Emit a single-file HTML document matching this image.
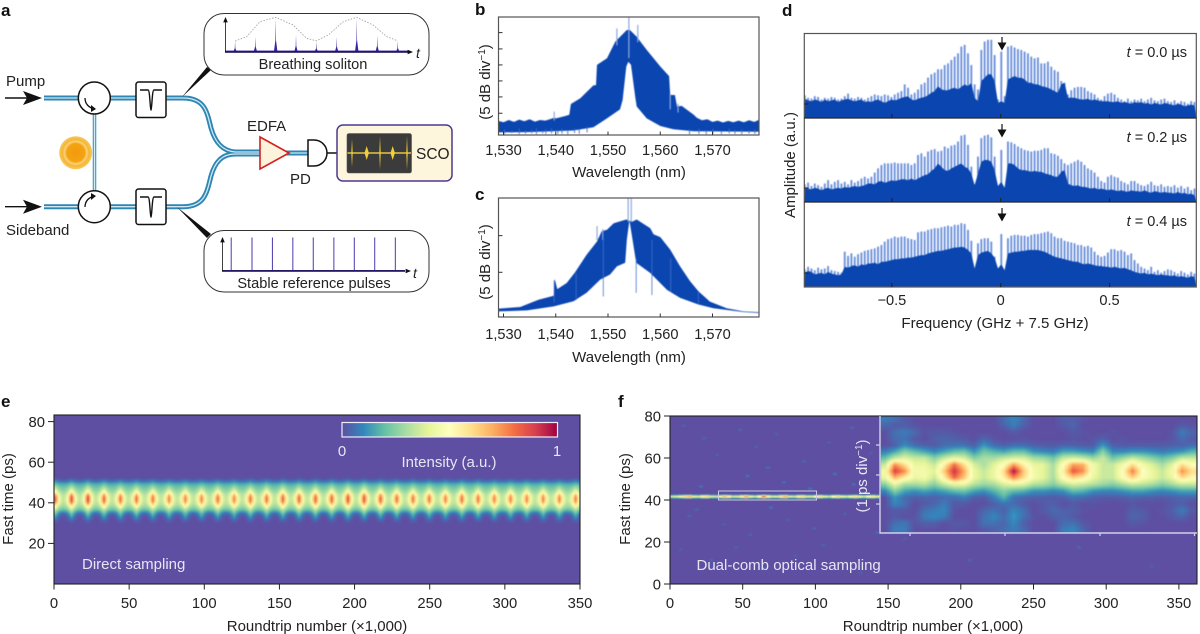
<!DOCTYPE html>
<html lang="en">
<head>
<meta charset="utf-8">
<title>Breathing soliton dual-comb sampling figure</title>
<style>
html,body{margin:0;padding:0;background:#fff;width:1200px;height:634px;overflow:hidden}
svg{display:block;font-family:"Liberation Sans",sans-serif;fill:#222}
text{font-size:15px}
.pl{font-weight:bold;font-size:17px;fill:#111}
.lt{fill:#e6e6f3}
</style>
</head>
<body>
<svg id="fig" xmlns="http://www.w3.org/2000/svg" width="1200" height="634" viewBox="0 0 1200 634">
<defs>
<clipPath id="clipB"><rect x="498.5" y="17" width="260.5" height="118"/></clipPath>
<clipPath id="clipC"><rect x="498.5" y="198" width="260.5" height="119"/></clipPath>
<clipPath id="clipD0"><rect x="804.3" y="33.5" width="392" height="84.5"/></clipPath>
<clipPath id="clipD1"><rect x="804.3" y="118" width="392" height="84"/></clipPath>
<clipPath id="clipD2"><rect x="804.3" y="202" width="392" height="85"/></clipPath>
<clipPath id="clipE"><rect x="54" y="415" width="526" height="169"/></clipPath>
<clipPath id="clipI"><rect x="880" y="416" width="317" height="117"/></clipPath>
<filter id="blur1" x="-5%" y="-5%" width="110%" height="110%" color-interpolation-filters="sRGB"><feGaussianBlur stdDeviation="0.9"/></filter>
<filter id="blur2" x="-5%" y="-5%" width="110%" height="110%" color-interpolation-filters="sRGB"><feGaussianBlur stdDeviation="1.1"/></filter>
<filter id="blurS" x="-2%" y="-2%" width="104%" height="104%" color-interpolation-filters="sRGB"><feGaussianBlur stdDeviation="0.4"/></filter>
<radialGradient id="ringGrad"><stop offset="0" stop-color="#f29a0a"/><stop offset="0.55" stop-color="#f4a313"/><stop offset="0.68" stop-color="#fbd37a"/><stop offset="0.8" stop-color="#f5b534"/><stop offset="1" stop-color="#f8c95c"/></radialGradient>
<linearGradient id="colorbarGrad"></linearGradient>
</defs>

<g>
<text class="pl" x="1" y="16">a</text>
<g fill="none">
<path d="M94.5,112 V192" stroke="#4ea5ca" stroke-width="3.6"/>
<path d="M94.5,112 V192" stroke="#d5ecf5" stroke-width="1"/>
<g stroke="#2e86b3" stroke-width="5">
<path d="M44,98 H136"/><path d="M44,206.7 H136"/>
<path d="M166,98 H183 C205,98 207,112 211,128 C215,142 222,151 235,152 H260"/>
<path d="M166,206.7 H183 C205,206.7 207,192 211,176 C215,162 222,154 235,154 H260"/>
<path d="M285,153 H310"/>
</g>
<g stroke="#cfe8f3" stroke-width="1.3">
<path d="M44,98 H136"/><path d="M44,206.7 H136"/>
<path d="M166,98 H183 C205,98 207,112 211,128 C215,142 222,151 235,152 H260"/>
<path d="M166,206.7 H183 C205,206.7 207,192 211,176 C215,162 222,154 235,154 H260"/>
<path d="M285,153 H310"/>
</g>
</g>
<circle cx="75.7" cy="152.7" r="16.5" fill="url(#ringGrad)"/>
<g><path d="M5,98 H30" stroke="#111" stroke-width="1.4"/><path d="M23,91 L42,98 L23,105 L27,98 Z" fill="#111"/></g>
<g><path d="M5,206.7 H30" stroke="#111" stroke-width="1.4"/><path d="M23,199.7 L42,206.7 L23,213.7 L27,206.7 Z" fill="#111"/></g>
<text x="6" y="86">Pump</text>
<text x="6" y="235">Sideband</text>
<g><circle cx="94.3" cy="98" r="16" fill="#fff" stroke="#111" stroke-width="1.5"/><path d="M85,98 C85,104 89,108 95,109" fill="none" stroke="#111" stroke-width="1.3"/><path d="M91,105 L96,109 L91,112 Z" fill="#111"/></g>
<g><circle cx="94.3" cy="206.7" r="16" fill="#fff" stroke="#111" stroke-width="1.5"/><path d="M85,207 C85,201 89,197 95,196" fill="none" stroke="#111" stroke-width="1.3"/><path d="M91,193 L96,196 L91,200 Z" fill="#111"/></g>
<g><rect x="136" y="82" width="30" height="35.5" rx="2.5" fill="#fff" stroke="#111" stroke-width="1.5"/><path d="M140,90 H148 C150,90 150,109 151,110 C152,109 152,90 154,90 H162" fill="none" stroke="#111" stroke-width="1.4"/></g>
<g><rect x="136" y="189" width="30" height="35.5" rx="2.5" fill="#fff" stroke="#111" stroke-width="1.5"/><path d="M140,197 H148 C150,197 150,216 151,217 C152,216 152,197 154,197 H162" fill="none" stroke="#111" stroke-width="1.4"/></g>
<path d="M182,97 L207,67 L211,70 Z" fill="#111"/>
<path d="M177,207 L207,238 L211,234 Z" fill="#111"/>
<rect x="204" y="13.5" width="225" height="61.5" rx="20" fill="#fff" stroke="#333" stroke-width="1"/>
<rect x="204" y="230.5" width="225" height="61.5" rx="20" fill="#fff" stroke="#333" stroke-width="1"/>
<g id="miniBreath"></g>
<g id="miniRef"></g>
<text x="313" y="69" text-anchor="middle" style="font-size:14.6px">Breathing soliton</text>
<text x="314" y="288" text-anchor="middle" style="font-size:14.6px">Stable reference pulses</text>
<text x="416" y="58" style="font-size:14px;font-style:italic">t</text>
<text x="413" y="278" style="font-size:14px;font-style:italic">t</text>
<path d="M260,137 L289,153 L260,169 Z" fill="#fdf3dc" stroke="#d42020" stroke-width="1.6"/>
<text x="247" y="131">EDFA</text>
<path d="M308,140 H314 A13,13 0 0 1 314,166 H308 Z" fill="#fff" stroke="#111" stroke-width="1.5"/>
<path d="M327,153 H337" stroke="#111" stroke-width="1.5"/>
<text x="290" y="184">PD</text>
<rect x="337" y="125" width="115" height="56" rx="6" fill="#fdf5dc" stroke="#4b3a90" stroke-width="1.5"/>
<rect x="347" y="133.5" width="64.5" height="39.5" rx="2" fill="#3b3b3b" stroke="#555" stroke-width="0.6"/>
<g fill="#f0cf3e" stroke="none">
<rect x="347.5" y="152.3" width="63.5" height="1.4"/>
<path d="M351.3,153 L352,139 L352.7,153 L352,167 Z"/>
<path d="M364.5,153 L366.7,146 L368.9,153 L366.7,160 Z"/>
<path d="M379.3,153 L380,136 L380.7,153 L380,170 Z"/>
<path d="M390.5,153 L392.7,146 L394.9,153 L392.7,160 Z"/>
<path d="M406.3,153 L407,136 L407.7,153 L407,170 Z"/>
</g>
<text x="416" y="159" style="font-size:15.5px">SCO</text>
</g>

<g>
<text class="pl" x="475" y="15">b</text>
<g clip-path="url(#clipB)"><g id="specB" filter="url(#blurS)"></g></g>
<rect x="498.5" y="17" width="260.5" height="118" fill="none" stroke="#555" stroke-width="1.2"/>
<g id="axB"></g>
<text x="629" y="177" text-anchor="middle">Wavelength (nm)</text>
<text transform="translate(490,82) rotate(-90)" text-anchor="middle">(5 dB div<tspan dy="-5" style="font-size:10px">−1</tspan><tspan dy="5">)</tspan></text>
</g>

<g>
<text class="pl" x="475" y="200">c</text>
<g clip-path="url(#clipC)"><g id="specC" filter="url(#blurS)"></g></g>
<rect x="498.5" y="198" width="260.5" height="119" fill="none" stroke="#555" stroke-width="1.2"/>
<g id="axC"></g>
<text x="629" y="362" text-anchor="middle">Wavelength (nm)</text>
<text transform="translate(490,262) rotate(-90)" text-anchor="middle">(5 dB div<tspan dy="-5" style="font-size:10px">−1</tspan><tspan dy="5">)</tspan></text>
</g>

<g>
<text class="pl" x="782" y="16">d</text>
<g clip-path="url(#clipD0)"><g id="rf0" filter="url(#blurS)"></g></g>
<g clip-path="url(#clipD1)"><g id="rf1" filter="url(#blurS)"></g></g>
<g clip-path="url(#clipD2)"><g id="rf2" filter="url(#blurS)"></g></g>
<rect x="804.3" y="33.5" width="392" height="253.5" fill="none" stroke="#555" stroke-width="1.2"/>
<path d="M804.3,118 H1196.3 M804.3,202 H1196.3" stroke="#222" stroke-width="1.2"/>
<g id="axD"></g>
<text x="1187" y="57" text-anchor="end" style="font-size:14.5px"><tspan font-style="italic">t</tspan> = 0.0 µs</text>
<text x="1187" y="142" text-anchor="end" style="font-size:14.5px"><tspan font-style="italic">t</tspan> = 0.2 µs</text>
<text x="1187" y="226" text-anchor="end" style="font-size:14.5px"><tspan font-style="italic">t</tspan> = 0.4 µs</text>
<text transform="translate(795,165) rotate(-90)" text-anchor="middle">Amplitude (a.u.)</text>
<text x="995" y="328" text-anchor="middle">Frequency (GHz + 7.5 GHz)</text>
<g id="arrowsD"></g>
</g>

<g>
<text class="pl" x="1" y="407">e</text>
<rect x="54" y="415" width="526" height="169" fill="#5e4fa2"/>
<g clip-path="url(#clipE)"><g id="heatE" filter="url(#blur1)"></g></g>
<rect x="54" y="415" width="526" height="169" fill="none" stroke="#222" stroke-width="1.1"/>
<g id="axE"></g>
<rect x="342" y="422.5" width="215.5" height="14.5" fill="url(#colorbarGrad)" stroke="#eeeef8" stroke-width="1.2"/>
<text class="lt" x="342" y="456" text-anchor="middle">0</text>
<text class="lt" x="557" y="456" text-anchor="middle">1</text>
<text class="lt" x="449" y="467" text-anchor="middle">Intensity (a.u.)</text>
<text class="lt" x="82" y="569">Direct sampling</text>
<text transform="translate(13,499) rotate(-90)" text-anchor="middle">Fast time (ps)</text>
<text x="317" y="631" text-anchor="middle">Roundtrip number (×1,000)</text>
</g>

<g>
<text class="pl" x="618" y="407">f</text>
<rect x="670" y="416" width="527" height="168" fill="#5e4fa2"/>
<g id="heatF" filter="url(#blurS)"></g>
<g clip-path="url(#clipI)"><rect x="880" y="416" width="317" height="117" fill="#5e4fa2"/><g id="heatI" filter="url(#blur2)"></g></g>
<rect x="670" y="416" width="527" height="168" fill="none" stroke="#222" stroke-width="1.1"/>
<rect x="718.5" y="491" width="98" height="9" fill="none" stroke="#c8c8e4" stroke-width="1"/>
<path d="M880,416 V533 H1197" fill="none" stroke="#cfd2ea" stroke-width="1.4"/>
<path d="M876,445 H880 M876,475 H880 M876,504 H880 M910,533 V536 M1005,533 V536 M1100,533 V536 M1194.5,533 V536" stroke="#cfd2ea" stroke-width="1.2"/>
<text class="lt" transform="translate(867,476) rotate(-90)" text-anchor="middle">(1 ps div<tspan dy="-5" style="font-size:10px">−1</tspan><tspan dy="5">)</tspan></text>
<g id="axF"></g>
<text class="lt" x="696.5" y="570">Dual-comb optical sampling</text>
<text transform="translate(630,499) rotate(-90)" text-anchor="middle">Fast time (ps)</text>
<text x="933" y="631" text-anchor="middle">Roundtrip number (×1,000)</text>
</g>
</svg>

<script>
/* ---------- panel b: optical spectrum, envelope values in nm / dB ---------- */
const bUpperNm=[1529,1530,1531,1532,1533,1534,1535,1536,1537,1538,1539,1539.7,1540,1541,1542,1542.6,1542.9,1544.7,1547.2,1547.7,1547.9,1549.8,1551.4,1553.6,1554.2,1555.5,1557.4,1560,1561.7,1561.9,1562.8,1563.2,1564.1,1566.4,1567,1568,1569,1570,1571,1572,1573,1574,1575,1576,1577,1578,1579];
const bUpperDb=[4.4,4,4.7,4.1,4.8,4.3,4.9,4.2,4.7,4.5,5,5.4,5.2,5.6,6,6.3,9.7,11.5,15.5,15.6,21.9,24,29.2,32.8,32.8,30.7,26.6,21.4,18.4,12.5,12.5,8.9,9.1,6.3,5.4,4.6,4.9,4.1,4.5,3.9,4.4,4,4.5,4,4.6,4.1,4.8];
const bLowerNm=[1529,1534.5,1539.6,1543.4,1547.2,1549.8,1552.3,1552.8,1553.5,1553.9,1554.4,1555.2,1555.5,1557.4,1560,1562.5,1566.4,1579];
const bLowerDb=[0.8,0.9,1.2,1.4,2.4,5.2,8,10.9,21.4,22.9,21.9,12,8.9,5.2,2.8,1.8,1.2,1];
const bSpikeNm=[1554,1551.7,1555.7,1539.7,1561.9,1563.4];
const bSpikeTop=[36.9,33.3,34.4,7.3,13,9.8];
const bSpikeBottom=[24,28,29,4.5,8,7];
const bNoiseNm=[1530.2,1531.6,1533,1534.2,1535.4,1536.3,1537.5,1538.1,1539.2,1540.4,1541.2,1542.3,1543.6,1544.5,1546,1565.6,1567.4,1568.8,1570.1,1571.7,1573.2,1574.3,1575.6,1577,1578.1];
const bNoiseTop=[1.8,1.4,2,1.5,1.7,2.1,1.4,1.8,2.1,1.5,1.9,1.6,2.1,1.8,2.6,1.7,2,1.5,1.9,1.4,2,1.6,1.9,1.5,1.8];
const bNoiseBottom=[0.2,0.6,0.2,0.4,0.5,0.2,0.5,0.3,0.5,0.3,0.4,0.2,0.6,0.4,0.8,0.2,0.3,0.2,0.4,0.3,0.5,0.3,0.2,0.4,0.3];
const bYTicks=[6.8,11.9,16.9,21.9,26.9,32];

/* ---------- panel c ---------- */
const cUpperNm=[1529,1533.2,1536.7,1539.6,1539.8,1540.3,1542.1,1543.7,1545.9,1547.9,1548.8,1549.8,1551.1,1553.5,1554.6,1555.5,1558.1,1558.7,1560,1561.9,1563.8,1565.7,1567.3,1569.5,1572.7,1575.9,1579];
const cUpperDb=[1.14,1.36,2.36,2.9,5.18,3.8,4.64,6.1,8.5,10.3,11.7,11.9,12.8,13.3,13,13.3,12.1,11.3,10.9,9.2,6.9,4.9,3.5,2.1,1.2,0.77,0.64];
const cLowerNm=[1529,1534.5,1539.6,1543.4,1545.9,1548.5,1550.4,1551.7,1553.3,1553.6,1554.1,1554.7,1555.4,1558.1,1561.3,1563.8,1567.3,1570.2,1575.9,1579];
const cLowerDb=[0.77,0.9,1.45,2.14,3.3,5.1,5.8,6.9,7.4,10.5,13.2,10.5,7.4,6,3.7,2.6,1.7,1.2,0.68,0.55];
const cSpikeNm=[1553.85,1554.45,1547.9,1549];
const cSpikeTop=[16.3,16.3,12.4,12];
const cSpikeBottom=[13,13,10.5,10.5];
const cDipNm=[1549.1,1555.4,1558.4,1562,1567.3,1539.7,1543.9];
const cDipTop=[11,8,10.5,8,3.4,5,6];
const cDipBottom=[2.8,3.3,3,3.4,1.8,2,2.3];
const cYTicks=[6.1,11.1];
const wavelengthTicks=[1530,1540,1550,1560,1570];
const wavelengthTickLabels=["1,530","1,540","1,550","1,560","1,570"];

/* ---------- panel d: amplitude (0-100) of each comb line and of the pedestal ---------- */
const combSpacingGHz=0.0153;
const rfLinesT0=[27,24,23,26,25,22,24,23,25,24,22,23,26,29,24,23,25,24,22,24,26,28,27,26,28,27,25,28,30,32,40,36,28,30,34,40,42,48,52,54,58,58,63,65,69,73,77,85,87,77,63,40,34,81,91,93,93,75,22,79,26,85,86,84,82,81,79,77,73,71,72,65,65,67,61,57,55,44,42,28,33,36,37,37,36,32,30,28,24,22,26,29,30,28,24,22,20,23,20,22,21,23,20,22,24,21,20,22,23,20,19,21,18,20,19,17,20,19];
const rfBaseT0=[23,21,20,22,21,19,22,20,21,22,19,21,22,23,21,20,21,22,19,20,19,21,22,20,18,20,22,21,22,24,25,26,22,21,23,24,25,27,30,32,38,34,33,33,35,36,34,37,40,38,42,24,20,44,48,52,52,44,18,20,18,46,48,50,48,48,46,42,42,40,40,38,37,36,34,32,30,40,42,24,24,24,23,22,22,23,21,22,21,20,20,20,19,19,20,18,19,18,17,19,18,19,17,18,16,18,17,16,18,17,16,15,17,16,14,15,16,15];
const rfLinesT2=[21,23,19,22,20,18,22,26,21,24,26,22,24,21,26,23,25,28,30,28,30,35,40,44,46,46,46,47,46,46,46,46,44,46,56,58,54,60,62,63,60,61,66,64,67,68,72,79,80,68,42,21,54,76,79,80,77,54,19,62,17,72,71,69,66,64,62,61,60,61,61,62,64,64,58,57,55,51,46,44,46,48,50,48,44,40,38,35,30,25,23,30,32,30,29,25,23,21,25,25,22,20,19,21,24,20,19,21,18,19,18,20,17,19,16,18,14,16];
const rfBaseT2=[17,16,15,17,16,14,16,17,15,16,17,16,18,17,18,19,18,19,20,22,22,21,24,25,23,24,26,25,26,27,27,26,28,26,28,30,32,33,37,40,46,42,38,37,40,42,44,46,42,40,34,20,34,48,50,50,48,38,19,24,17,46,46,44,40,38,38,37,36,37,36,36,34,33,32,30,30,36,38,22,20,19,20,18,18,17,16,17,15,16,15,14,15,14,13,14,13,12,14,13,13,12,14,12,11,13,12,11,12,11,11,10,12,10,11,9,10,8];
const rfLinesT4=[21,24,22,20,23,21,22,25,20,19,18,17,42,37,40,36,39,41,43,44,45,46,48,50,54,57,58,60,59,60,60,58,57,56,65,66,66,68,69,70,70,71,72,73,72,74,74,76,75,68,55,22,52,57,58,58,54,36,22,63,20,58,61,62,62,61,61,60,62,63,63,64,65,66,64,60,58,58,55,54,53,52,50,50,48,49,47,42,38,36,37,41,45,45,43,44,42,38,40,32,28,24,22,20,24,18,20,17,19,21,20,18,16,19,17,15,18,16];
const rfBaseT4=[17,19,18,15,16,17,15,18,16,15,14,15,24,23,25,26,24,27,26,28,28,29,27,30,30,31,32,33,33,34,34,35,35,36,37,38,38,40,41,42,43,43,44,45,46,47,47,48,47,44,40,22,38,41,42,43,40,35,22,27,20,40,41,42,42,43,43,44,44,44,44,43,42,40,38,36,35,34,33,32,31,30,30,28,27,28,27,26,25,25,24,24,23,24,23,22,23,21,20,18,17,16,17,15,16,15,14,15,14,14,13,14,12,13,12,11,13,12];
const freqTicks=[-0.5,0,0.5];
const freqTickLabels=["−0.5","0","0.5"];
const comb0ArrowGHz=0.006;

/* ---------- panel e: breather pulses ---------- */
const ePulseRoundtrip=[-10,0.8,11.7,22.6,33.3,44.2,54.9,65.8,76.6,87.4,98.2,109,119.9,130.7,141.5,152.3,163.1,174,184.8,195.6,206.4,217.3,228.1,238.9,249.7,260.5,271.4,282.2,293,303.8,314.6,325.5,336.3,347.1,358];
const ePulsePeak=[0.84,0.84,0.86,0.87,0.82,0.8,0.8,0.79,0.77,0.77,0.77,0.8,0.77,0.8,0.8,0.82,0.82,0.82,0.82,0.85,0.85,0.82,0.8,0.79,0.79,0.77,0.8,0.79,0.77,0.77,0.77,0.77,0.77,0.77,0.77];
const eProfileTimes=[30.5,31.5,32.5,33.5,34.5,35.5,36.5,37.5,38.5,39.5,40.5,41.5,42.5,43.5,44.5,45.5,46.5,47.5,48.5,49.5,50.5,51.5,52.5,53.5];
const ePeakProfile=[0.02,0.05,0.1,0.15,0.2,0.26,0.33,0.42,0.52,0.68,0.8,0.85,0.85,0.8,0.68,0.52,0.42,0.34,0.27,0.2,0.13,0.06,0.01,0];
const eTroughProfile=[0,0,0,0.01,0.03,0.1,0.18,0.24,0.28,0.31,0.33,0.34,0.34,0.33,0.31,0.28,0.25,0.22,0.19,0.15,0.08,0.02,0,0];
const ePhaseMix=[0,0.06,0.25,0.65,1,0.65,0.25,0.06];
const ePulsePeriod=10.85;
const eXTicks=[0,50,100,150,200,250,300,350];
const eYTicks=[20,40,60,80];

/* ---------- panel f ---------- */
const fLineRoundtrip=[0,3,6,9,12,15,18,21,24,27,30,33,36,39,42,45,48,51,54,57,60,63,66,69,72,75,78,81,84,87,90,93,96,99,102,105,108,111,114,117,120,123,126,129,132,135,138,141,144];
const fLineValues=[0.35,0.38,0.45,0.6,0.65,0.4,0.38,0.55,0.6,0.38,0.36,0.45,0.65,0.55,0.36,0.38,0.55,0.68,0.42,0.36,0.5,0.75,0.55,0.38,0.38,0.58,0.66,0.38,0.36,0.55,0.6,0.38,0.38,0.5,0.58,0.4,0.36,0.5,0.6,0.42,0.38,0.45,0.58,0.42,0.36,0.48,0.56,0.4,0.38];
const fSpeckRoundtrip=[8,22,31,47,58,66,72,91,108,124,137,12,36,54,80,98,119,141,6,27,44,63,85,104,130,160,205,240,280,330,20,52,77,112,17,68,95,125];
const fSpeckTime=[76,70,62,74,66,56,72,59,68,75,63,33,29,24,31,27,34,25,17,12,18,8,14,19,6,22,12,26,18,9,47,52,49,53,36,37,46,48];
const fSpeckValue=[0.03,0.04,0.03,0.04,0.03,0.05,0.03,0.04,0.03,0.04,0.03,0.04,0.03,0.04,0.03,0.04,0.03,0.04,0.03,0.04,0.03,0.04,0.03,0.04,0.03,0.03,0.04,0.03,0.04,0.03,0.05,0.06,0.05,0.06,0.04,0.05,0.06,0.05];
const fXTicks=[0,50,100,150,200,250,300,350];
const fYTicks=[0,20,40,60,80];
const insetMatrix=[
[.08,.06,.02,0,0,0,0,0,0,0,0,0,.05,.1,.05,0,0,0,.03,.03,.01,0,0,0,0,0,0,0,0,0,0,0],
[.04,.02,.03,.01,0,0,0,0,0,0,0,0,.03,.08,.03,0,0,0,.02,.04,0,0,0,0,0,0,0,0,0,0,.02,.01],
[0,.06,.08,.05,.01,.02,.02,.01,0,0,0,0,0,.02,0,0,0,0,0,.02,.01,0,0,.01,0,0,0,0,0,.01,.08,.04],
[0,.05,.06,.02,0,.03,.04,.03,.02,0,.04,.01,0,0,.01,0,0,0,0,.01,0,.01,.03,0,.01,0,0,0,0,.01,.05,.02],
[0,.03,.1,.05,.03,.02,.05,.06,.06,.03,.12,.05,.03,.05,.05,.03,.02,.02,.03,.03,.02,.02,.12,.03,.02,.02,.02,.02,.02,.03,.03,.05],
[.08,.15,.25,.2,.15,.1,.15,.2,.22,.12,.22,.18,.15,.2,.2,.12,.1,.08,.15,.15,.12,.1,.25,.1,.1,.12,.12,.1,.08,.1,.12,.18],
[.2,.35,.4,.35,.35,.25,.35,.42,.38,.25,.3,.3,.35,.38,.38,.3,.28,.22,.35,.38,.35,.28,.35,.22,.28,.35,.3,.25,.2,.25,.35,.35],
[.35,.75,.6,.42,.42,.35,.55,.8,.6,.38,.3,.4,.5,.72,.55,.42,.4,.3,.5,.72,.7,.45,.35,.35,.45,.6,.45,.38,.3,.4,.6,.5],
[.45,.9,.75,.45,.45,.4,.65,.92,.7,.42,.35,.42,.6,.98,.65,.45,.4,.3,.55,.85,.75,.45,.35,.35,.5,.78,.5,.42,.35,.45,.75,.6],
[.42,.68,.55,.42,.45,.35,.55,.82,.65,.42,.35,.42,.55,.75,.6,.45,.4,.3,.5,.62,.55,.42,.35,.35,.48,.62,.48,.42,.35,.42,.6,.52],
[.25,.42,.3,.3,.32,.25,.35,.42,.42,.32,.28,.3,.38,.42,.4,.32,.3,.25,.32,.38,.35,.32,.28,.25,.3,.35,.33,.3,.25,.3,.35,.35],
[.1,.25,.15,.12,.15,.12,.15,.2,.22,.15,.12,.18,.25,.2,.18,.12,.12,.1,.12,.2,.18,.12,.1,.1,.12,.15,.15,.12,.1,.12,.15,.15],
[0,.12,.05,.03,.04,.03,.05,.05,.08,.03,.02,.08,.18,.06,.04,.03,.03,.02,.03,.06,.05,.03,.02,.02,.03,.04,.03,.03,.02,.03,.04,.04],
[0,.1,.06,0,.02,.04,.08,.02,.02,0,0,.03,.06,.05,.02,0,.02,.03,0,.02,0,.01,0,0,0,.01,0,0,0,.02,.03,0],
[0,.02,.02,0,.06,.08,.1,.01,0,0,.04,.06,.03,.1,.06,0,.02,.05,.03,.03,.01,0,0,0,0,.03,.02,0,.01,.03,.08,.02],
[0,.02,0,.01,.08,.1,.08,0,0,0,.06,.1,.05,.12,.06,.01,0,.03,.04,.02,0,0,0,0,0,.04,.03,0,0,.02,.04,0],
[0,.06,.07,.01,.03,.03,0,.02,.02,0,.06,.06,.04,.1,.03,0,0,0,.05,.06,.02,0,0,0,0,.02,.01,0,0,0,0,0],
[0,.08,.08,0,0,0,0,.01,0,0,.02,.03,.05,.08,.05,0,0,0,.08,.1,.04,0,0,0,0,0,0,0,0,0,0,0]
];

/* ---------- panel a mini traces (time 0-100, height 0-100) ---------- */
const breathPulseTimes=[5.5,16.6,27.7,38.8,49.9,61,72,83.2,94.4];
const breathPulseHeights=[32,45,100,50,30,45,100,50,32];
const breathEnvelopeTimes=[5.5,11.8,19.1,27.7,37.3,44.6,49.9,56.5,64.6,72,81,88.4,94.4];
const breathEnvelopeHeights=[32,45,89,102,79,40,33,50,89,102,79,45,33];
const refPulseTimes=[5,16.3,27.4,38.5,49.6,60.8,71.9,83,94.2];
const refPulseHeights=[100,100,100,100,100,100,100,100,100];

/* ---------- colour scale ---------- */
const spectralStops=["#5e4fa2","#3288bd","#66c2a5","#abdda4","#e6f598","#ffffbf","#fee08b","#fdae61","#f46d43","#d53e4f","#9e0142"];

const NS="http://www.w3.org/2000/svg";
const dark="#0a45b0", light="#8ea8de";
function make(parent,tag,attrs,text){
  const n=document.createElementNS(NS,tag);
  for(const k in attrs)n.setAttribute(k,attrs[k]);
  if(text!==undefined)n.textContent=text;
  parent.appendChild(n);
  return n;
}
function hexRgb(h){return [1,3,5].map(i=>parseInt(h.substr(i,2),16));}
const stopRgb=spectralStops.map(hexRgb);
function colorOf(v){
  const u=Math.max(0,Math.min(1,v))*(stopRgb.length-1);
  const i=Math.min(stopRgb.length-2,Math.floor(u)),f=u-i;
  const a=stopRgb[i],b=stopRgb[i+1];
  return "rgb("+a.map((c,k)=>Math.round(c+(b[k]-c)*f)).join(",")+")";
}
const grad=document.getElementById("colorbarGrad");
spectralStops.forEach((c,i)=>{
  const s=make(grad,"stop",{offset:i/(spectralStops.length-1),"stop-color":c});
  
  
});

/* axis functions */
const xNm=nm=>503.5+(nm-1530)*5.225;
const yB=db=>135-db*3.2;
const yC=db=>317-db*7.33;
const xGHz=f=>1000.7+f*217.7;
const yRf=(bottom,v)=>bottom-v*0.84;
const xE=r=>54+r*(526/350);
const yE=t=>584-t*2.03;
const xF=r=>670+r*1.454;
const yF=t=>584-t*2.1;
const xInset=u=>880+u*(317/32);
const yInset=v=>416+v*(117/18);
const xMiniA=t=>225+t*1.83;
const yMiniA=h=>52-h*0.34;
const xMiniB=t=>222+t*1.84;
const yMiniB=h=>271-h*0.335;

function drawSpectrum(g,yf,uN,uD,lN,lD,name){
  const pts=[];
  uN.forEach((n,i)=>pts.push(xNm(n).toFixed(1)+","+yf(uD[i]).toFixed(1)));
  for(let i=lN.length-1;i>=0;i--)pts.push(xNm(lN[i]).toFixed(1)+","+yf(lD[i]).toFixed(1));
  const p=make(g,"polygon",{points:pts.join(" "),fill:dark});
  
  
}
function drawStreaks(g,yf,nm,top,bottom,color,w,name){
  nm.forEach((n,i)=>{
    const l=make(g,"line",{x1:xNm(n),x2:xNm(n),y1:yf(top[i]),y2:yf(bottom[i]),stroke:color,"stroke-width":w});
    
    
  });
}
function wavelengthAxis(g,bottom,labelY,yTicks,yf,prefix){
  wavelengthTicks.forEach((w,i)=>{
    const t=make(g,"line",{x1:xNm(w),x2:xNm(w),y1:bottom,y2:bottom-3.5,stroke:"#333","stroke-width":1});
    
    
    const l=make(g,"text",{x:xNm(w),y:labelY,"text-anchor":"middle",style:"font-size:14.6px"},wavelengthTickLabels[i]);
    
    
  });
  yTicks.forEach(d=>{
    const t=make(g,"line",{x1:498.5,x2:502.5,y1:yf(d),y2:yf(d),stroke:"#333","stroke-width":1});
    
    
  });
}
const specB=document.getElementById("specB");
drawSpectrum(specB,yB,bUpperNm,bUpperDb,bLowerNm,bLowerDb,'spectrum-b-envelope');
drawStreaks(specB,yB,bNoiseNm,bNoiseTop,bNoiseBottom,"#3f6cc8",0.9,'spectrum-b-noise-streak');
drawStreaks(specB,yB,bSpikeNm,bSpikeTop,bSpikeBottom,light,1.2,'spectrum-b-spike');
wavelengthAxis(document.getElementById("axB"),135,155,bYTicks,yB,'spectrum-b');
const specC=document.getElementById("specC");
drawSpectrum(specC,yC,cUpperNm,cUpperDb,cLowerNm,cLowerDb,'spectrum-c-envelope');
drawStreaks(specC,yC,cSpikeNm,cSpikeTop,cSpikeBottom,light,1.2,'spectrum-c-spike');
drawStreaks(specC,yC,cDipNm,cDipTop,cDipBottom,"#4470cc",0.8,'spectrum-c-dip');
wavelengthAxis(document.getElementById("axC"),317,339,cYTicks,yC,'spectrum-c');

/* panel d */
function drawRf(id,bottom,lines,base,name){
  const g=document.getElementById(id);
  lines.forEach((v,i)=>{
    const f=-0.9+i*combSpacingGHz;
    const l=make(g,"line",{x1:xGHz(f),x2:xGHz(f),y1:bottom,y2:yRf(bottom,v),stroke:"#9db6e8","stroke-width":2.1});
    
    
    const tip=make(g,"line",{x1:xGHz(f),x2:xGHz(f),y1:yRf(bottom,base[i]),y2:yRf(bottom,v),stroke:"#4f7ad2","stroke-width":0.9});
    
    
  });
  const pts=["804,"+bottom];
  base.forEach((v,i)=>pts.push(xGHz(-0.9+i*combSpacingGHz).toFixed(1)+","+yRf(bottom,v).toFixed(1)));
  pts.push("1197,"+bottom);
  const p=make(g,"polygon",{points:pts.join(" "),fill:dark});
  
  
}
drawRf("rf0",118,rfLinesT0,rfBaseT0,'rf-t0');
drawRf("rf1",202,rfLinesT2,rfBaseT2,'rf-t02');
drawRf("rf2",287,rfLinesT4,rfBaseT4,'rf-t04');
const axD=document.getElementById("axD");
[118,202,287].forEach((b,k)=>{
  freqTicks.forEach(f=>{
    const t=make(axD,"line",{x1:xGHz(f),x2:xGHz(f),y1:b,y2:b-4,stroke:"#222","stroke-width":1.1});
    
    
  });
  const y=make(axD,"line",{x1:804.3,x2:808.5,y1:b-14,y2:b-14,stroke:"#222","stroke-width":1});
  
  
});
freqTicks.forEach((f,i)=>{
  const l=make(axD,"text",{x:xGHz(f),y:305,"text-anchor":"middle",style:"font-size:14.6px"},freqTickLabels[i]);
  
  
});
const arrowsD=document.getElementById("arrowsD");
[37,124,208].forEach(top=>{
  const x=xGHz(comb0ArrowGHz);
  const s=make(arrowsD,"line",{x1:x,x2:x,y1:top,y2:top+8,stroke:"#111","stroke-width":1.2});
  
  
  const h=make(arrowsD,"polygon",{points:(x-4.5)+","+(top+5.5)+" "+(x+4.5)+","+(top+5.5)+" "+x+","+(top+13.5),fill:"#111"});
  
  
});

/* panel e heatmap */
const heatE=document.getElementById("heatE");
const phaseCells=ePhaseMix.length;
const cellRt=ePulsePeriod/phaseCells;
ePulseRoundtrip.forEach((rt,p)=>{
  ePhaseMix.forEach((mix,k)=>{
    const cx=rt+(k-phaseCells/2)*cellRt;
    eProfileTimes.forEach((t,r)=>{
      const v=mix*ePulsePeak[p]*ePeakProfile[r]/0.85+(1-mix)*eTroughProfile[r];
      if(v<=0.003)return;
      const c=make(heatE,"rect",{x:(xE(cx-cellRt/2)).toFixed(2),y:(yE(t+0.5)).toFixed(2),width:(xE(cellRt)-xE(0)+0.5).toFixed(2),height:2.4,fill:colorOf(v)});
      
      
    });
  });
});
function numericAxis(g,xTicks,yTicks,xf,yf,left,bottom,prefix){
  xTicks.forEach(v=>{
    const t=make(g,"line",{x1:xf(v),x2:xf(v),y1:bottom,y2:bottom+5.5,stroke:"#222","stroke-width":1});
    
    
    const l=make(g,"text",{x:xf(v),y:608,"text-anchor":"middle",style:"font-size:14.8px"},String(v));
    
    
  });
  yTicks.forEach(v=>{
    const t=make(g,"line",{x1:left-6,x2:left,y1:yf(v),y2:yf(v),stroke:"#222","stroke-width":1});
    
    
    const l=make(g,"text",{x:left-9,y:yf(v)+5.3,"text-anchor":"end",style:"font-size:14.8px"},String(v));
    
    
  });
}
numericAxis(document.getElementById("axE"),eXTicks,eYTicks,xE,yE,54,584,'heatmap-e');

/* panel f */
const heatF=document.getElementById("heatF");
fSpeckRoundtrip.forEach((r,i)=>{
  const s=make(heatF,"rect",{x:xF(r),y:yF(fSpeckTime[i]),width:4,height:2.5,fill:colorOf(fSpeckValue[i])});
  
  
});
fLineRoundtrip.forEach((r,i)=>{
  const w=xF(3)-xF(0)+0.3;
  const glow=make(heatF,"rect",{x:xF(r),y:yF(41.6)-2,width:w,height:4,fill:colorOf(fLineValues[i]*0.45)});
  
  
});
fLineRoundtrip.forEach((r,i)=>{
  const w=xF(3)-xF(0)+0.3;
  const c=make(heatF,"rect",{x:xF(r),y:yF(41.6)-0.9,width:w,height:1.8,fill:colorOf(fLineValues[i])});
  
  
});
const heatI=document.getElementById("heatI");
const rows=insetMatrix.length,cols=insetMatrix[0].length,sub=3;
function sampleInset(u,v){
  u=Math.max(0,Math.min(cols-1,u));v=Math.max(0,Math.min(rows-1,v));
  const c0=Math.min(cols-2,Math.floor(u)),r0=Math.min(rows-2,Math.floor(v)),fu=u-c0,fv=v-r0;
  return (insetMatrix[r0][c0]*(1-fu)+insetMatrix[r0][c0+1]*fu)*(1-fv)+(insetMatrix[r0+1][c0]*(1-fu)+insetMatrix[r0+1][c0+1]*fu)*fv;
}
for(let r=0;r<rows*sub;r++){
  for(let c=0;c<cols*sub;c++){
    const v=sampleInset((c+0.5)/sub-0.5,(r+0.5)/sub-0.5);
    if(v<=0.004)continue;
    const cell=make(heatI,"rect",{x:xInset(c/sub).toFixed(2),y:yInset(r/sub).toFixed(2),width:(xInset(1/sub)-xInset(0)+0.4).toFixed(2),height:(yInset(1/sub)-yInset(0)+0.4).toFixed(2),fill:colorOf(v)});
    
    
  }
}
numericAxis(document.getElementById("axF"),fXTicks,fYTicks,xF,yF,670,584,'heatmap-f');

/* panel a mini traces */
const miniBreath=document.getElementById("miniBreath");
const env=make(miniBreath,"polyline",{points:breathEnvelopeTimes.map((t,i)=>xMiniA(t).toFixed(1)+","+yMiniA(breathEnvelopeHeights[i]).toFixed(1)).join(" "),fill:"none",stroke:"#999","stroke-width":0.8,"stroke-dasharray":"1.5 1.5"});


breathPulseTimes.forEach((t,i)=>{
  const x=xMiniA(t);
  const p=make(miniBreath,"polygon",{points:(x-1.8)+","+yMiniA(0)+" "+(x-0.3)+","+yMiniA(breathPulseHeights[i]*0.35)+" "+x+","+yMiniA(breathPulseHeights[i])+" "+(x+0.3)+","+yMiniA(breathPulseHeights[i]*0.35)+" "+(x+1.8)+","+yMiniA(0),fill:"#3a23a5"});
  
  
});
const baseA=make(miniBreath,"rect",{x:225,y:50.6,width:183,height:2.2,fill:"#2c1c96"});


const axA=make(miniBreath,"path",{d:"M225.5,52 V20 M225.5,18 l-1.7,4 h3.4 Z M225,52 H408 M412,52 l-4,-1.7 v3.4 Z",fill:"#111",stroke:"#111","stroke-width":0.8});


const miniRef=document.getElementById("miniRef");
refPulseTimes.forEach((t,i)=>{
  const l=make(miniRef,"line",{x1:xMiniB(t),x2:xMiniB(t),y1:yMiniB(0),y2:yMiniB(refPulseHeights[i]),stroke:"#4a3ab0","stroke-width":1});
  
  
});
const baseB=make(miniRef,"rect",{x:222,y:270,width:183,height:1.8,fill:"#2c1c96"});


const axR=make(miniRef,"path",{d:"M222.5,271 V240 M222.5,238 l-1.7,4 h3.4 Z M222,271 H405 M410,271 l-4,-1.7 v3.4 Z",fill:"#111",stroke:"#111","stroke-width":0.8});


</script>
</body>
</html>
